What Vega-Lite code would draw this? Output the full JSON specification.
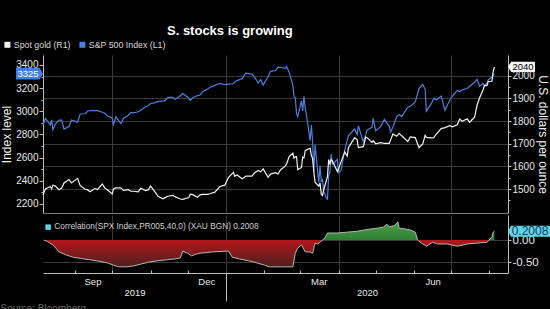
{
  "$schema": "https://vega.github.io/schema/vega-lite/v6.json",
  "background": "#000000",
  "autosize": {"type": "none"},
  "padding": {"left": 43, "top": 55, "right": 507, "bottom": 254},
  "bounds": "flush",
  "spacing": 2,
  "title": {"text": "S. stocks is growing", "anchor": "start", "frame": "group", "dx": 124, "dy": -2, "offset": 0, "color": "#ffffff", "fontSize": 13, "fontWeight": "bold", "font": "Liberation Sans"},
  "datasets": {
    "px": [
      {"d":"2019-08-06","spx":2881,"gold":1474},{"d":"2019-08-08","spx":2938,"gold":1500},{"d":"2019-08-12","spx":2883,"gold":1511},{"d":"2019-08-13","spx":2926,"gold":1500},{"d":"2019-08-14","spx":2840,"gold":1517},{"d":"2019-08-16","spx":2889,"gold":1513},{"d":"2019-08-19","spx":2924,"gold":1497},{"d":"2019-08-21","spx":2924,"gold":1503},{"d":"2019-08-23","spx":2847,"gold":1527},{"d":"2019-08-27","spx":2869,"gold":1542},{"d":"2019-08-29","spx":2924,"gold":1527},{"d":"2019-09-03","spx":2906,"gold":1547},{"d":"2019-09-05","spx":2977,"gold":1516},{"d":"2019-09-09","spx":2979,"gold":1499},{"d":"2019-09-11","spx":3000,"gold":1497},{"d":"2019-09-13","spx":3007,"gold":1488},{"d":"2019-09-17","spx":3006,"gold":1502},{"d":"2019-09-19","spx":3006,"gold":1498},{"d":"2019-09-23","spx":2992,"gold":1522},{"d":"2019-09-25","spx":2984,"gold":1504},{"d":"2019-09-27","spx":2962,"gold":1497},{"d":"2019-10-01","spx":2940,"gold":1478},{"d":"2019-10-02","spx":2887,"gold":1500},{"d":"2019-10-04","spx":2952,"gold":1505},{"d":"2019-10-08","spx":2893,"gold":1505},{"d":"2019-10-10","spx":2938,"gold":1494},{"d":"2019-10-14","spx":2966,"gold":1497},{"d":"2019-10-16","spx":2990,"gold":1490},{"d":"2019-10-18","spx":2986,"gold":1490},{"d":"2019-10-22","spx":2996,"gold":1487},{"d":"2019-10-24","spx":3010,"gold":1503},{"d":"2019-10-28","spx":3039,"gold":1493},{"d":"2019-10-30","spx":3047,"gold":1496},{"d":"2019-11-01","spx":3067,"gold":1513},{"d":"2019-11-05","spx":3075,"gold":1484},{"d":"2019-11-07","spx":3085,"gold":1468},{"d":"2019-11-11","spx":3087,"gold":1457},{"d":"2019-11-13","spx":3094,"gold":1463},{"d":"2019-11-15","spx":3120,"gold":1468},{"d":"2019-11-19","spx":3120,"gold":1472},{"d":"2019-11-21","spx":3104,"gold":1465},{"d":"2019-11-25","spx":3134,"gold":1456},{"d":"2019-11-27","spx":3153,"gold":1454},{"d":"2019-12-02","spx":3113,"gold":1462},{"d":"2019-12-03","spx":3093,"gold":1477},{"d":"2019-12-05","spx":3117,"gold":1475},{"d":"2019-12-09","spx":3136,"gold":1463},{"d":"2019-12-11","spx":3141,"gold":1474},{"d":"2019-12-13","spx":3169,"gold":1476},{"d":"2019-12-17","spx":3193,"gold":1476},{"d":"2019-12-19","spx":3205,"gold":1479},{"d":"2019-12-23","spx":3224,"gold":1486},{"d":"2019-12-27","spx":3240,"gold":1511},{"d":"2019-12-31","spx":3231,"gold":1517},
      {"d":"2020-01-03","spx":3235,"gold":1552},{"d":"2020-01-07","spx":3238,"gold":1574},{"d":"2020-01-08","spx":3253,"gold":1557},{"d":"2020-01-10","spx":3265,"gold":1562},{"d":"2020-01-14","spx":3283,"gold":1545},{"d":"2020-01-16","spx":3317,"gold":1552},{"d":"2020-01-17","spx":3330,"gold":1557},{"d":"2020-01-22","spx":3321,"gold":1557},{"d":"2020-01-24","spx":3295,"gold":1571},{"d":"2020-01-27","spx":3244,"gold":1582},{"d":"2020-01-29","spx":3273,"gold":1576},{"d":"2020-01-31","spx":3226,"gold":1589},{"d":"2020-02-04","spx":3298,"gold":1552},{"d":"2020-02-06","spx":3345,"gold":1566},{"d":"2020-02-10","spx":3352,"gold":1572},{"d":"2020-02-12","spx":3379,"gold":1566},{"d":"2020-02-14","spx":3380,"gold":1584},{"d":"2020-02-18","spx":3370,"gold":1602},{"d":"2020-02-19","spx":3386,"gold":1611},{"d":"2020-02-21","spx":3338,"gold":1643},{"d":"2020-02-24","spx":3226,"gold":1658},{"d":"2020-02-25","spx":3128,"gold":1636},{"d":"2020-02-26","spx":3116,"gold":1642},{"d":"2020-02-27","spx":2979,"gold":1643},{"d":"2020-02-28","spx":2954,"gold":1585},{"d":"2020-03-02","spx":3090,"gold":1595},{"d":"2020-03-03","spx":3003,"gold":1641},{"d":"2020-03-04","spx":3130,"gold":1637},{"d":"2020-03-05","spx":3024,"gold":1669},{"d":"2020-03-06","spx":2972,"gold":1673},{"d":"2020-03-09","spx":2747,"gold":1680},{"d":"2020-03-10","spx":2882,"gold":1649},{"d":"2020-03-11","spx":2741,"gold":1634},{"d":"2020-03-12","spx":2481,"gold":1576},{"d":"2020-03-13","spx":2711,"gold":1530},{"d":"2020-03-16","spx":2386,"gold":1513},{"d":"2020-03-17","spx":2529,"gold":1527},{"d":"2020-03-18","spx":2398,"gold":1477},{"d":"2020-03-19","spx":2409,"gold":1471},{"d":"2020-03-20","spx":2305,"gold":1498},{"d":"2020-03-23","spx":2237,"gold":1553},{"d":"2020-03-24","spx":2447,"gold":1630},{"d":"2020-03-25","spx":2476,"gold":1612},{"d":"2020-03-26","spx":2630,"gold":1630},{"d":"2020-03-27","spx":2541,"gold":1624},{"d":"2020-03-31","spx":2585,"gold":1577},{"d":"2020-04-01","spx":2470,"gold":1591},{"d":"2020-04-03","spx":2489,"gold":1620},{"d":"2020-04-06","spx":2664,"gold":1664},{"d":"2020-04-08","spx":2750,"gold":1646},{"d":"2020-04-09","spx":2790,"gold":1683},{"d":"2020-04-14","spx":2846,"gold":1727},{"d":"2020-04-16","spx":2800,"gold":1717},{"d":"2020-04-17","spx":2875,"gold":1683},{"d":"2020-04-21","spx":2737,"gold":1687},{"d":"2020-04-23","spx":2798,"gold":1730},{"d":"2020-04-24","spx":2837,"gold":1727},{"d":"2020-04-28","spx":2863,"gold":1706},{"d":"2020-04-29","spx":2939,"gold":1713},{"d":"2020-05-01","spx":2831,"gold":1700},{"d":"2020-05-05","spx":2868,"gold":1705},{"d":"2020-05-08","spx":2930,"gold":1702},{"d":"2020-05-12","spx":2870,"gold":1702},{"d":"2020-05-13","spx":2820,"gold":1716},{"d":"2020-05-15","spx":2864,"gold":1743},{"d":"2020-05-18","spx":2954,"gold":1733},{"d":"2020-05-20","spx":2972,"gold":1746},{"d":"2020-05-22","spx":2955,"gold":1735},{"d":"2020-05-27","spx":3036,"gold":1710},{"d":"2020-05-29","spx":3044,"gold":1730},{"d":"2020-06-02","spx":3081,"gold":1727},{"d":"2020-06-05","spx":3194,"gold":1683},{"d":"2020-06-08","spx":3232,"gold":1698},{"d":"2020-06-10","spx":3190,"gold":1737},{"d":"2020-06-11","spx":3002,"gold":1728},{"d":"2020-06-15","spx":3066,"gold":1726},{"d":"2020-06-17","spx":3113,"gold":1727},{"d":"2020-06-19","spx":3098,"gold":1743},{"d":"2020-06-23","spx":3131,"gold":1767},{"d":"2020-06-26","spx":3009,"gold":1771},{"d":"2020-06-30","spx":3100,"gold":1780},{"d":"2020-07-02","spx":3130,"gold":1775},{"d":"2020-07-06","spx":3180,"gold":1784},{"d":"2020-07-08","spx":3169,"gold":1809},{"d":"2020-07-10","spx":3185,"gold":1799},{"d":"2020-07-14","spx":3197,"gold":1810},{"d":"2020-07-16","spx":3216,"gold":1795},{"d":"2020-07-20","spx":3251,"gold":1817},{"d":"2020-07-22","spx":3276,"gold":1871},{"d":"2020-07-24","spx":3216,"gold":1902},{"d":"2020-07-27","spx":3239,"gold":1941},{"d":"2020-07-28","spx":3218,"gold":1958},{"d":"2020-07-30","spx":3246,"gold":1957},{"d":"2020-07-31","spx":3271,"gold":1975},{"d":"2020-08-03","spx":3295,"gold":1976},{"d":"2020-08-04","spx":3306,"gold":2019},{"d":"2020-08-05","spx":3327,"gold":2039}
    ],
    "corr": [
      {"d":"2019-08-07","c":0.0},{"d":"2019-08-10","c":-0.04},{"d":"2019-08-14","c":-0.11},{"d":"2019-08-19","c":-0.27},{"d":"2019-08-24","c":-0.33},{"d":"2019-08-30","c":-0.39},{"d":"2019-09-06","c":-0.42},{"d":"2019-09-13","c":-0.45},{"d":"2019-09-20","c":-0.48},{"d":"2019-09-27","c":-0.52},{"d":"2019-10-02","c":-0.57},{"d":"2019-10-06","c":-0.61},{"d":"2019-10-12","c":-0.61},{"d":"2019-10-18","c":-0.59},{"d":"2019-10-24","c":-0.55},{"d":"2019-10-31","c":-0.5},{"d":"2019-11-07","c":-0.47},{"d":"2019-11-14","c":-0.45},{"d":"2019-11-20","c":-0.43},{"d":"2019-11-25","c":-0.41},{"d":"2019-11-27","c":-0.25},{"d":"2019-12-01","c":-0.3},{"d":"2019-12-04","c":-0.36},{"d":"2019-12-08","c":-0.32},{"d":"2019-12-11","c":-0.3},{"d":"2019-12-21","c":-0.27},{"d":"2019-12-28","c":-0.26},{"d":"2020-01-03","c":-0.25},{"d":"2020-01-06","c":-0.39},{"d":"2020-01-12","c":-0.43},{"d":"2020-01-19","c":-0.47},{"d":"2020-01-26","c":-0.52},{"d":"2020-02-01","c":-0.57},{"d":"2020-02-05","c":-0.61},{"d":"2020-02-12","c":-0.61},{"d":"2020-02-18","c":-0.61},{"d":"2020-02-24","c":-0.61},{"d":"2020-02-26","c":-0.3},{"d":"2020-02-28","c":-0.18},{"d":"2020-03-02","c":-0.11},{"d":"2020-03-05","c":-0.27},{"d":"2020-03-09","c":-0.27},{"d":"2020-03-11","c":-0.3},{"d":"2020-03-13","c":-0.07},{"d":"2020-03-15","c":-0.09},{"d":"2020-03-17","c":-0.05},{"d":"2020-03-21","c":0.05},{"d":"2020-03-23","c":0.16},{"d":"2020-03-31","c":0.16},{"d":"2020-04-08","c":0.18},{"d":"2020-04-16","c":0.2},{"d":"2020-04-24","c":0.24},{"d":"2020-05-02","c":0.27},{"d":"2020-05-07","c":0.29},{"d":"2020-05-10","c":0.36},{"d":"2020-05-12","c":0.3},{"d":"2020-05-16","c":0.33},{"d":"2020-05-19","c":0.41},{"d":"2020-05-20","c":0.27},{"d":"2020-05-25","c":0.25},{"d":"2020-05-29","c":0.23},{"d":"2020-06-02","c":0.18},{"d":"2020-06-04","c":0.0},{"d":"2020-06-07","c":-0.07},{"d":"2020-06-11","c":-0.14},{"d":"2020-06-16","c":-0.05},{"d":"2020-06-20","c":-0.09},{"d":"2020-06-28","c":-0.09},{"d":"2020-07-06","c":-0.14},{"d":"2020-07-14","c":-0.09},{"d":"2020-07-22","c":-0.07},{"d":"2020-07-30","c":-0.05},{"d":"2020-08-03","c":0.07},{"d":"2020-08-04","c":0.18},{"d":"2020-08-05","c":0.2008}
    ]
  },
  "vconcat": [
    {
      "width": 465,
      "height": 158,
      "layer": [
        {
          "data": {"name": "px"},
          "layer": [
            {
              "mark": {"type": "line", "color": "#4a80dc", "strokeWidth": 1.2},
              "encoding": {
                "x": {"field": "d", "type": "temporal",
                  "scale": {"type": "utc", "domain": [{"year": 2019, "month": 8, "date": 6, "utc": true}, {"year": 2020, "month": 8, "date": 16, "utc": true}]},
                  "axis": {"orient": "bottom", "title": null, "labels": false, "ticks": false, "domain": true, "domainColor": "#7a7a7a",
                    "values": [{"year":2019,"month":10,"date":1,"utc":true},{"year":2020,"month":1,"date":1,"utc":true},{"year":2020,"month":4,"date":1,"utc":true},{"year":2020,"month":7,"date":1,"utc":true}],
                    "grid": true}},
                "y": {"field": "spx", "type": "quantitative",
                  "scale": {"domain": [2122, 3486], "nice": false, "zero": false},
                  "axis": {"orient": "left", "title": "Index level", "titlePadding": 2, "grid": false,
                    "values": [2200,2400,2600,2800,3000,3200,3400],
                    "labelOverlap": false, "labelSeparation": -100,
                    "format": "d", "tickSize": 4, "labelPadding": 1}}
              }
            },
            {
              "data": {"values": [{"v": 3325}]},
              "mark": {"type": "point", "shape": "M-1,-0.44L0.74,-0.44L1,0L0.74,0.44L-1,0.44Z", "filled": true, "opacity": 1, "color": "#3f7fe0", "size": 729, "xOffset": -13.5},
              "encoding": {
                "x": {"datum": {"year": 2019, "month": 8, "date": 6, "utc": true}, "type": "temporal"},
                "y": {"field": "v", "type": "quantitative",
                  "axis": {"orient": "left", "title": null, "labels": false, "domain": false, "grid": false, "tickSize": 2,
                    "values": [2300,2500,2700,2900,3100,3300]}}
              }
            },
            {
              "data": {"values": [{"v": 3325}]},
              "mark": {"type": "text", "color": "#ffffff", "fontSize": 9.5, "xOffset": -15, "align": "center", "baseline": "middle"},
              "encoding": {
                "x": {"datum": {"year": 2019, "month": 8, "date": 6, "utc": true}, "type": "temporal"},
                "y": {"field": "v", "type": "quantitative", "axis": null},
                "text": {"field": "v", "type": "nominal"}
              }
            }
          ],
          "resolve": {"axis": {"y": "independent"}}
        },
        {
          "data": {"name": "px"},
          "layer": [
            {
              "mark": {"type": "line", "color": "#f2f2f2", "strokeWidth": 1.2},
              "encoding": {
                "x": {"field": "d", "type": "temporal"},
                "y": {"field": "gold", "type": "quantitative",
                  "scale": {"domain": [1394, 2092], "nice": false, "zero": false},
                  "axis": {"orient": "right", "title": "U.S. dollars per ounce", "titlePadding": 1,
                    "values": [1500,1600,1700,1800,1900,2000],
                    "labelOverlap": false, "labelSeparation": -100,
                    "format": "d", "tickSize": 3, "labelPadding": 1, "grid": true}}
              }
            },
            {
              "data": {"values": [{"v": 2040}]},
              "mark": {"type": "point", "shape": "M-1,0L-0.76,-0.38L1,-0.38L1,0.38L-0.76,0.38Z", "filled": true, "opacity": 1, "color": "#f5f5f5", "size": 729, "xOffset": 13.5},
              "encoding": {
                "x": {"datum": {"year": 2020, "month": 8, "date": 16, "utc": true}, "type": "temporal"},
                "y": {"field": "v", "type": "quantitative",
                  "axis": {"orient": "right", "title": null, "labels": false, "domain": false, "grid": false, "tickSize": 2,
                    "values": [1450,1550,1650,1750,1850,1950,2050]}}
              }
            },
            {
              "data": {"values": [{"v": 2040}]},
              "mark": {"type": "text", "color": "#000000", "fontSize": 9.5, "xOffset": 15, "align": "center", "baseline": "middle"},
              "encoding": {
                "x": {"datum": {"year": 2020, "month": 8, "date": 16, "utc": true}, "type": "temporal"},
                "y": {"field": "v", "type": "quantitative", "axis": null},
                "text": {"field": "v", "type": "nominal"}
              }
            }
          ],
          "resolve": {"axis": {"y": "independent"}}
        },
        {
          "data": {"values": [{"s": "Spot gold (R1)"}, {"s": "S&P 500 Index (L1)"}]},
          "mark": {"type": "square", "opacity": 0},
          "encoding": {
            "color": {"field": "s", "type": "nominal",
              "scale": {"domain": ["Spot gold (R1)", "S&P 500 Index (L1)"], "range": ["#f2f2f2", "#4a80dc"]},
              "legend": {"orient": "none", "legendX": -40, "legendY": -15, "direction": "horizontal", "title": null,
                "symbolType": "square", "symbolSize": 36, "symbolOpacity": 1, "symbolStrokeWidth": 0,
                "labelFontSize": 8.8, "labelColor": "#d9d9d9", "columnPadding": 7, "labelOffset": 2}}
          }
        }
      ],
      "resolve": {"scale": {"y": "independent"}}
    },
    {
      "width": 465,
      "height": 58,
      "layer": [
        {
          "data": {"name": "corr"},
          "mark": {"type": "area", "line": false,
            "fill": {"gradient": "linear", "x1": 0, "y1": 0, "x2": 0, "y2": 1,
              "stops": [{"offset": 0, "color": "#4a9e4a"}, {"offset": 0.4, "color": "#2f7f33"}, {"offset": 0.402, "color": "#b3161b"}, {"offset": 1, "color": "#4d2020"}]}},
          "encoding": {
            "x": {"field": "d", "type": "temporal",
              "scale": {"type": "utc", "domain": [{"year": 2019, "month": 8, "date": 6, "utc": true}, {"year": 2020, "month": 8, "date": 16, "utc": true}]},
              "axis": {"orient": "bottom", "domain": false, "ticks": false, "grid": false,
                "values": [{"year":2019,"month":9,"date":15,"utc":true},{"year":2019,"month":10,"date":19,"utc":true},{"year":2019,"month":12,"date":16,"utc":true},{"year":2020,"month":3,"date":16,"utc":true},{"year":2020,"month":4,"date":24,"utc":true},{"year":2020,"month":6,"date":16,"utc":true}],
                "labelExpr": "utcdate(datum.value) > 16 ? ['', '' + utcyear(datum.value)] : utcFormat(datum.value, '%b')",
                "labelBound": false, "labelFlush": false, "labelOverlap": false,
                "labelFontSize": 9.5, "labelPadding": 3, "labelLineHeight": 11,
                "title": "Source: Bloomberg", "titleX": -43, "titleY": 30, "titleAlign": "left", "titleAnchor": "start", "titleBaseline": "top",
                "titleColor": "#6a6a6a", "titleFontSize": 10}},
            "y": {"field": "c", "type": "quantitative",
              "scale": {"domain": [-0.75, 0.57], "nice": false, "zero": false},
              "axis": {"orient": "right", "title": null, "values": [-0.5, 0], "tickSize": 3, "labelPadding": 1, "labelFontSize": 11.5,
                "labelOverlap": false, "labelSeparation": -100,
                "labelExpr": "datum.value < 0 ? '-' + format(-datum.value, '.2f') : format(datum.value, '.2f')",
                "grid": true}},
            "y2": {"datum": 0}
          }
        },
        {
          "data": {"name": "corr"},
          "mark": {"type": "line", "color": "#b5b5b5", "strokeWidth": 1},
          "encoding": {
            "x": {"field": "d", "type": "temporal",
              "axis": {"orient": "bottom", "labels": false, "title": null, "domain": true,
                "values": [{"year":2019,"month":9,"date":1,"utc":true},{"year":2019,"month":10,"date":1,"utc":true},{"year":2019,"month":11,"date":1,"utc":true},{"year":2019,"month":12,"date":1,"utc":true},{"year":2020,"month":1,"date":1,"utc":true},{"year":2020,"month":2,"date":1,"utc":true},{"year":2020,"month":3,"date":1,"utc":true},{"year":2020,"month":4,"date":1,"utc":true},{"year":2020,"month":5,"date":1,"utc":true},{"year":2020,"month":6,"date":1,"utc":true},{"year":2020,"month":7,"date":1,"utc":true},{"year":2020,"month":8,"date":1,"utc":true}],
                "tickSize": {"condition": {"test": "utcmonth(datum.value) == 0", "value": 28}, "value": -3},
                "grid": true,
                "gridOpacity": {"condition": {"test": "utcmonth(datum.value) % 3 == 0", "value": 1}, "value": 0}}},
            "y": {"field": "c", "type": "quantitative"}
          }
        },
        {
          "data": {"values": [{"v": 0.2008}]},
          "mark": {"type": "point", "shape": "M-1,0L-0.86,-0.26L1,-0.26L1,0.26L-0.86,0.26Z", "filled": true, "opacity": 1, "color": "#5fd6e6", "size": 1849, "xOffset": 21.5},
          "encoding": {
            "x": {"datum": {"year": 2020, "month": 8, "date": 16, "utc": true}, "type": "temporal", "axis": null},
            "y": {"field": "v", "type": "quantitative"}
          }
        },
        {
          "data": {"values": [{"v": "0.2008", "y": 0.2008}]},
          "mark": {"type": "text", "color": "#0f3a66", "fontSize": 12, "xOffset": 22, "align": "center", "baseline": "middle"},
          "encoding": {
            "x": {"datum": {"year": 2020, "month": 8, "date": 16, "utc": true}, "type": "temporal", "axis": null},
            "y": {"field": "y", "type": "quantitative"},
            "text": {"field": "v", "type": "nominal"}
          }
        },
        {
          "data": {"values": [{"s": "Correlation(SPX Index,PR005,40,0) (XAU BGN) 0.2008"}]},
          "mark": {"type": "square", "opacity": 0},
          "encoding": {
            "color": {"field": "s", "type": "nominal",
              "scale": {"range": ["#5fd6e6"]},
              "legend": {"orient": "none", "legendX": 1, "legendY": 8, "title": null,
                "symbolType": "square", "symbolSize": 30, "symbolOpacity": 1, "symbolStrokeWidth": 0,
                "labelFontSize": 8.3, "labelColor": "#d0d0d0", "labelLimit": 0, "labelOffset": 2}}
          }
        }
      ],
      "resolve": {"axis": {"x": "independent"}}
    }
  ],
  "resolve": {"scale": {"color": "independent"}, "legend": {"color": "independent"}},
  "config": {
    "view": {"stroke": null},
    "font": "Liberation Sans",
    "axis": {"labelColor": "#e8e8e8", "titleColor": "#f0f0f0", "domainColor": "#bdbdbd", "tickColor": "#bdbdbd", "gridColor": "#3a3a3a",
      "labelFont": "Liberation Sans", "titleFont": "Liberation Sans", "titleFontWeight": "normal", "labelFontSize": 10, "titleFontSize": 12},
    "legend": {"labelFont": "Liberation Sans"}
  }
}
